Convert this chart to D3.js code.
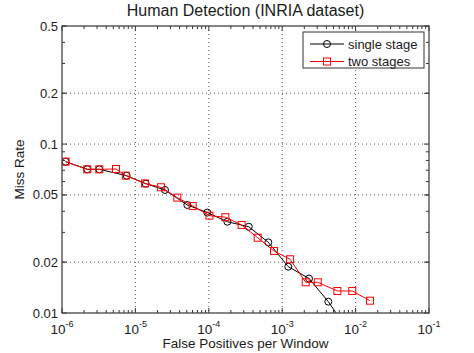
<!DOCTYPE html>
<meta charset="utf-8">
<html>
<head>
<style>
  body { margin: 0; background: #fff; }
  text { font-family: "Liberation Sans", Arial, sans-serif; fill: #1a1a1a; }
  .grid line { stroke: #555; stroke-width: 1; stroke-dasharray: 1,3; }
</style>
</head>
<body>
<svg width="474" height="353"></svg>
<script src="https://cdn.jsdelivr.net/npm/d3@7"></script>
<script>

// false positives per window / miss rate
var fppwSingle = [1.12e-6, 2.21e-6, 3.22e-6, 7.6e-6, 1.38e-5, 2.53e-5, 5.1e-5, 9.55e-5, 1.79e-4, 3.5e-4, 6.47e-4, 1.21e-3, 2.32e-3, 4.25e-3, 7.2e-3];
var missSingle = [0.0787, 0.0709, 0.0709, 0.065, 0.0583, 0.0535, 0.0436, 0.0393, 0.0347, 0.0324, 0.0262, 0.0188, 0.0160, 0.01167, 0.00838];

var fppwTwo = [1.12e-6, 2.21e-6, 3.22e-6, 5.44e-6, 7.4e-6, 1.35e-5, 2.23e-5, 3.72e-5, 6.03e-5, 1.02e-4, 1.68e-4, 2.8e-4, 4.64e-4, 7.73e-4, 1.28e-3, 2.09e-3, 3.05e-3, 5.64e-3, 9.02e-3, 1.57e-2];
var missTwo = [0.0787, 0.0709, 0.0709, 0.0712, 0.065, 0.0585, 0.0555, 0.0482, 0.043, 0.0377, 0.0369, 0.0332, 0.0279, 0.0233, 0.0208, 0.0152, 0.0152, 0.0135, 0.0135, 0.01183];

var xMajor = [-6, -5, -4, -3, -2, -1];           // exponents
var yMajor = [0.01, 0.02, 0.05, 0.1, 0.2, 0.5];
var yLabels = ["0.01", "0.02", "0.05", "0.1", "0.2", "0.5"];
var seriesNames = ["single stage", "two stages"];

var svg = d3.select("svg");
var mLeft = 62, mRight = 429, mTop = 26, mBottom = 313;

var x = d3.scaleLog().domain([1e-6, 1e-1]).range([mLeft, mRight]);
var y = d3.scaleLog().domain([0.01, 0.5]).range([mBottom, mTop]);

// minor ticks
var xMinor = [];
for (var e = -6; e < -1; e++) for (var k = 2; k <= 9; k++) xMinor.push(k * Math.pow(10, e));
var yMinor = [];
[0.01, 0.1].forEach(function(b) { for (var k = 2; k <= 9; k++) if (b * k <= 0.5) yMinor.push(b * k); });

// grid
var grid = svg.append("g").attr("class", "grid");
grid.selectAll(".gx").data(xMajor.slice(1, -1)).enter().append("line")
    .attr("x1", d => x(Math.pow(10, d))).attr("x2", d => x(Math.pow(10, d)))
    .attr("y1", mTop).attr("y2", mBottom);
grid.selectAll(".gy").data(yMajor.slice(1, -1)).enter().append("line")
    .attr("x1", mLeft).attr("x2", mRight)
    .attr("y1", d => y(d)).attr("y2", d => y(d));

// ticks, inward on all four sides
var ticks = svg.append("g").attr("stroke", "#333").attr("stroke-width", 1);
function xTick(v, len) {
    ticks.append("line").attr("x1", x(v)).attr("x2", x(v)).attr("y1", mBottom).attr("y2", mBottom - len);
    ticks.append("line").attr("x1", x(v)).attr("x2", x(v)).attr("y1", mTop).attr("y2", mTop + len);
}
function yTick(v, len) {
    ticks.append("line").attr("y1", y(v)).attr("y2", y(v)).attr("x1", mLeft).attr("x2", mLeft + len);
    ticks.append("line").attr("y1", y(v)).attr("y2", y(v)).attr("x1", mRight).attr("x2", mRight - len);
}
xMinor.forEach(v => xTick(v, 3));
xMajor.forEach(e => xTick(Math.pow(10, e), 5));
yMinor.forEach(v => yTick(v, 3));
yMajor.forEach(v => yTick(v, 5));

// data
svg.append("clipPath").attr("id", "clip").append("rect")
    .attr("x", mLeft).attr("y", mTop).attr("width", mRight - mLeft).attr("height", mBottom - mTop);
var plot = svg.append("g").attr("clip-path", "url(#clip)");
var line = d3.line().x(d => x(d[0])).y(d => y(d[1]));

var single = fppwSingle.map((v, i) => [v, missSingle[i]]);
var two = fppwTwo.map((v, i) => [v, missTwo[i]]);

plot.append("path").datum(single).attr("d", line)
    .attr("fill", "none").attr("stroke", "#000").attr("stroke-width", 1);
plot.selectAll(".c").data(single).enter().append("circle")
    .attr("cx", d => x(d[0])).attr("cy", d => y(d[1])).attr("r", 3.5)
    .attr("fill", "none").attr("stroke", "#000");

plot.append("path").datum(two).attr("d", line)
    .attr("fill", "none").attr("stroke", "#f00").attr("stroke-width", 1);
plot.selectAll(".s").data(two).enter().append("rect")
    .attr("x", d => x(d[0]) - 3.5).attr("y", d => y(d[1]) - 3.5)
    .attr("width", 7).attr("height", 7)
    .attr("fill", "none").attr("stroke", "#f00");

// axes box
svg.append("rect").attr("x", mLeft).attr("y", mTop).attr("width", mRight - mLeft).attr("height", mBottom - mTop)
    .attr("fill", "none").attr("stroke", "#444").attr("stroke-width", 1.3);

// tick labels
svg.selectAll(".yl").data(yMajor).enter().append("text")
    .attr("x", mLeft - 4).attr("y", d => y(d) + 4.5)
    .attr("text-anchor", "end").attr("font-size", 13)
    .text((d, i) => yLabels[i]);

var xl = svg.selectAll(".xl").data(xMajor).enter().append("text")
    .attr("x", d => x(Math.pow(10, d))).attr("y", 334)
    .attr("text-anchor", "middle").attr("font-size", 13.5);
xl.append("tspan").text("10");
xl.append("tspan").attr("dy", -7).attr("font-size", 9).text(d => d);

// titles
svg.append("text").attr("x", (mLeft + mRight) / 2).attr("y", 16)
    .attr("text-anchor", "middle").attr("font-size", 16)
    .text("Human Detection (INRIA dataset)");
svg.append("text").attr("x", (mLeft + mRight) / 2).attr("y", 348)
    .attr("text-anchor", "middle").attr("font-size", 13.5)
    .text("False Positives per Window");
svg.append("text").attr("transform", "translate(24," + (mTop + mBottom) / 2 + ") rotate(-90)")
    .attr("text-anchor", "middle").attr("font-size", 13.5)
    .text("Miss Rate");

// legend
var lg = svg.append("g");
lg.append("rect").attr("x", 303).attr("y", 32).attr("width", 121).attr("height", 36)
    .attr("fill", "#fff").attr("stroke", "#333");
[["#000", "circle"], ["#f00", "square"]].forEach(function(s, i) {
    var cy = 44 + i * 17.5;
    lg.append("line").attr("x1", 310).attr("x2", 344).attr("y1", cy).attr("y2", cy).attr("stroke", s[0]);
    if (s[1] == "circle") {
        lg.append("circle").attr("cx", 327).attr("cy", cy).attr("r", 3.5).attr("fill", "none").attr("stroke", s[0]);
    } else {
        lg.append("rect").attr("x", 323.5).attr("y", cy - 3.5).attr("width", 7).attr("height", 7).attr("fill", "none").attr("stroke", s[0]);
    }
    lg.append("text").attr("x", 348).attr("y", cy + 4.5).attr("font-size", 13).text(seriesNames[i]);
});
</script>
</body>
</html>
